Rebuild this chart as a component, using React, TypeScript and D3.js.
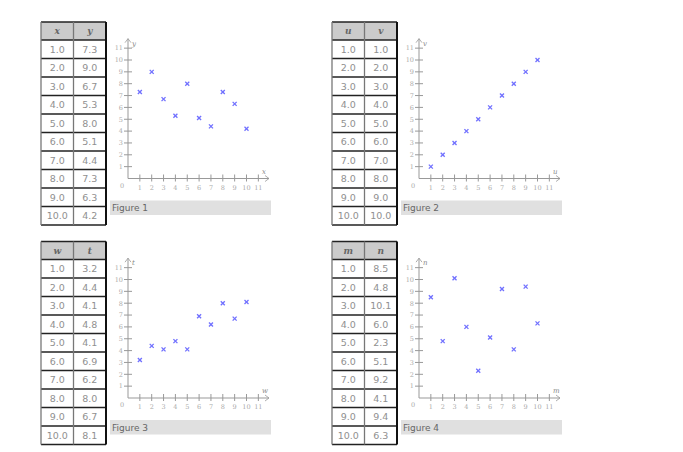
import React from "react";
import * as d3 from "d3";

const xs1 = [1.0, 2.0, 3.0, 4.0, 5.0, 6.0, 7.0, 8.0, 9.0, 10.0];
const ys1 = [7.3, 9.0, 6.7, 5.3, 8.0, 5.1, 4.4, 7.3, 6.3, 4.2];
const xs2 = [1.0, 2.0, 3.0, 4.0, 5.0, 6.0, 7.0, 8.0, 9.0, 10.0];
const ys2 = [1.0, 2.0, 3.0, 4.0, 5.0, 6.0, 7.0, 8.0, 9.0, 10.0];
const xs3 = [1.0, 2.0, 3.0, 4.0, 5.0, 6.0, 7.0, 8.0, 9.0, 10.0];
const ys3 = [3.2, 4.4, 4.1, 4.8, 4.1, 6.9, 6.2, 8.0, 6.7, 8.1];
const xs4 = [1.0, 2.0, 3.0, 4.0, 5.0, 6.0, 7.0, 8.0, 9.0, 10.0];
const ys4 = [8.5, 4.8, 10.1, 6.0, 2.3, 5.1, 9.2, 4.1, 9.4, 6.3];
const xNames = ["x", "u", "w", "m"];
const yNames = ["y", "v", "t", "n"];
const captions = ["Figure 1", "Figure 2", "Figure 3", "Figure 4"];
const tickValues = [1, 2, 3, 4, 5, 6, 7, 8, 9, 10, 11];

const panels = [
  { xs: xs1, ys: ys1, left: 41, top: 22 },
  { xs: xs2, ys: ys2, left: 332, top: 22 },
  { xs: xs3, ys: ys3, left: 41, top: 241.5 },
  { xs: xs4, ys: ys4, left: 332, top: 241.5 },
];

const COLW = 32.5;
const HEAD = 18;
const ROWH = 18.5;
const UNIT = 11.85;
const MARK = "#7070ff";

function Panel({ i }: { i: number }) {
  const p = panels[i];
  const tw = COLW * 2;
  const th = HEAD + ROWH * p.xs.length;
  const ox = p.left + 87;
  const oy = p.top + 156.5;
  const x = d3.scaleLinear().domain([0, 12]).range([ox, ox + 12 * UNIT]);
  const y = d3.scaleLinear().domain([0, 12]).range([oy, oy - 12 * UNIT]);
  const rows = p.xs.map((v, k) => [v, p.ys[k]]);
  const fmt = d3.format(".1f");
  return (
    <g>
      {/* table */}
      <rect x={p.left} y={p.top} width={tw} height={HEAD} fill="#cbcbcb" />
      <text x={p.left + COLW / 2} y={p.top + HEAD / 2 + 3} textAnchor="middle" fontSize={9} fontStyle="italic" fontWeight="bold" fill="#666" fontFamily="DejaVu Serif">{xNames[i]}</text>
      <text x={p.left + COLW * 1.5} y={p.top + HEAD / 2 + 3} textAnchor="middle" fontSize={9} fontStyle="italic" fontWeight="bold" fill="#666" fontFamily="DejaVu Serif">{yNames[i]}</text>
      {rows.map((r, k) => (
        <g key={k}>
          <text x={p.left + COLW / 2} y={p.top + HEAD + ROWH * k + ROWH / 2 + 3.5} textAnchor="middle" fontSize={9.5} fill="#909090" fontFamily="DejaVu Sans">{fmt(r[0])}</text>
          <text x={p.left + COLW * 1.5} y={p.top + HEAD + ROWH * k + ROWH / 2 + 3.5} textAnchor="middle" fontSize={9.5} fill="#909090" fontFamily="DejaVu Sans">{fmt(r[1])}</text>
        </g>
      ))}
      {d3.range(rows.length + 2).map((k) => {
        const yy = k === 0 ? p.top : p.top + HEAD + ROWH * (k - 1);
        return <line key={"h" + k} x1={p.left} x2={p.left + tw} y1={yy} y2={yy} stroke="#222" strokeWidth={1.3} />;
      })}
      <line x1={p.left} x2={p.left} y1={p.top} y2={p.top + th} stroke="#777" strokeWidth={1.3} />
      <line x1={p.left + COLW} x2={p.left + COLW} y1={p.top} y2={p.top + th} stroke="#777" strokeWidth={1.3} />
      <line x1={p.left + tw} x2={p.left + tw} y1={p.top} y2={p.top + th} stroke="#111" strokeWidth={2} />

      {/* axes */}
      <line x1={ox} x2={x(11.9)} y1={oy} y2={oy} stroke="#999" strokeWidth={1} />
      <line x1={ox} x2={ox} y1={oy} y2={y(11.8)} stroke="#999" strokeWidth={1} />
      <path d={`M${x(11.9) - 4},${oy - 3} L${x(11.9)},${oy} L${x(11.9) - 4},${oy + 3}`} fill="none" stroke="#999" strokeWidth={0.8} />
      <path d={`M${ox - 3},${y(11.8) + 4} L${ox},${y(11.8)} L${ox + 3},${y(11.8) + 4}`} fill="none" stroke="#999" strokeWidth={0.8} />
      {tickValues.map((t) => (
        <g key={"t" + t}>
          <line x1={x(t)} x2={x(t)} y1={oy - 4} y2={oy + 3} stroke="#999" strokeWidth={1} />
          <text x={x(t)} y={oy + 11} textAnchor="middle" fontSize={6.5} fill="#aaa" fontFamily="DejaVu Serif">{t}</text>
          <line x1={ox - 4} x2={ox + 4} y1={y(t)} y2={y(t)} stroke="#999" strokeWidth={1} />
          <text x={ox - 5} y={y(t) + 2.3} textAnchor="end" fontSize={6.5} fill="#aaa" fontFamily="DejaVu Serif">{t}</text>
        </g>
      ))}
      <text x={ox - 6} y={oy + 9} textAnchor="middle" fontSize={6.5} fill="#aaa" fontFamily="DejaVu Serif">0</text>
      <text x={x(11.3)} y={oy - 5} textAnchor="start" fontSize={7} fontStyle="italic" fill="#888" fontFamily="DejaVu Serif">{xNames[i]}</text>
      <text x={ox + 4} y={y(11.2)} textAnchor="start" fontSize={7} fontStyle="italic" fill="#888" fontFamily="DejaVu Serif">{yNames[i]}</text>

      {/* points */}
      {rows.map((r, k) => (
        <g key={"m" + k} stroke={MARK} strokeWidth={1.3}>
          <line x1={x(r[0]) - 2} x2={x(r[0]) + 2} y1={y(r[1]) - 2} y2={y(r[1]) + 2} />
          <line x1={x(r[0]) - 2} x2={x(r[0]) + 2} y1={y(r[1]) + 2} y2={y(r[1]) - 2} />
        </g>
      ))}

      {/* caption */}
      <rect x={ox - 18} y={oy + 22} width={161} height={14.5} fill="#e0e0e0" />
      <text x={ox - 16} y={oy + 32.8} fontSize={9} fill="#666" fontFamily="DejaVu Sans">{captions[i]}</text>
    </g>
  );
}

export default function App() {
  return (
    <svg width={683} height={452} style={{ position: "absolute", left: 0, top: 0, background: "#fff" }}>
      {panels.map((_, i) => (
        <Panel key={i} i={i} />
      ))}
    </svg>
  );
}
